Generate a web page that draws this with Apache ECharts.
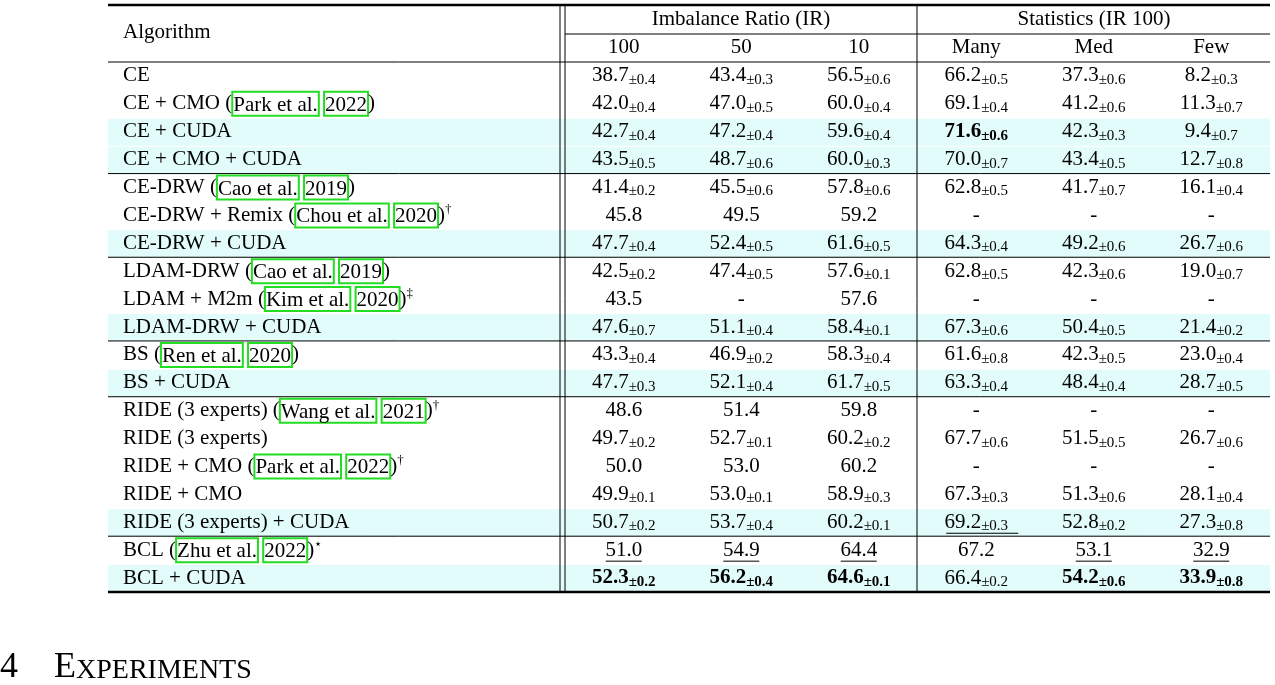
<!DOCTYPE html>
<html><head><meta charset="utf-8">
<script src="https://cdn.jsdelivr.net/npm/echarts@6/dist/echarts.min.js"></script>
<style>html,body{margin:0;background:#fff}#c{width:1275px;height:685px}</style>
</head><body><div id="c"></div>
<script>
// algorithm rows: [prefix, cite author, cite year, suffix mark]
const algos = [
  ['CE'], ['CE + CMO (', 'Park et al.', '2022'], ['CE + CUDA'], ['CE + CMO + CUDA'],
  ['CE-DRW (', 'Cao et al.', '2019'], ['CE-DRW + Remix (', 'Chou et al.', '2020', '†'], ['CE-DRW + CUDA'],
  ['LDAM-DRW (', 'Cao et al.', '2019'], ['LDAM + M2m (', 'Kim et al.', '2020', '‡'], ['LDAM-DRW + CUDA'],
  ['BS (', 'Ren et al.', '2020'], ['BS + CUDA'],
  ['RIDE (3 experts) (', 'Wang et al.', '2021', '†'], ['RIDE (3 experts)'], ['RIDE + CMO (', 'Park et al.', '2022', '†'],
  ['RIDE + CMO'], ['RIDE (3 experts) + CUDA'],
  ['BCL (', 'Zhu et al.', '2022', '⋆'], ['BCL + CUDA']
];
const columns = ['100', '50', '10', 'Many', 'Med', 'Few'];
const means = [
  ['38.7','43.4','56.5','66.2','37.3','8.2'],
  ['42.0','47.0','60.0','69.1','41.2','11.3'],
  ['42.7','47.2','59.6','71.6','42.3','9.4'],
  ['43.5','48.7','60.0','70.0','43.4','12.7'],
  ['41.4','45.5','57.8','62.8','41.7','16.1'],
  ['45.8','49.5','59.2','-','-','-'],
  ['47.7','52.4','61.6','64.3','49.2','26.7'],
  ['42.5','47.4','57.6','62.8','42.3','19.0'],
  ['43.5','-','57.6','-','-','-'],
  ['47.6','51.1','58.4','67.3','50.4','21.4'],
  ['43.3','46.9','58.3','61.6','42.3','23.0'],
  ['47.7','52.1','61.7','63.3','48.4','28.7'],
  ['48.6','51.4','59.8','-','-','-'],
  ['49.7','52.7','60.2','67.7','51.5','26.7'],
  ['50.0','53.0','60.2','-','-','-'],
  ['49.9','53.0','58.9','67.3','51.3','28.1'],
  ['50.7','53.7','60.2','69.2','52.8','27.3'],
  ['51.0','54.9','64.4','67.2','53.1','32.9'],
  ['52.3','56.2','64.6','66.4','54.2','33.9']
];
const stds = [
  ['0.4','0.3','0.6','0.5','0.6','0.3'],
  ['0.4','0.5','0.4','0.4','0.6','0.7'],
  ['0.4','0.4','0.4','0.6','0.3','0.7'],
  ['0.5','0.6','0.3','0.7','0.5','0.8'],
  ['0.2','0.6','0.6','0.5','0.7','0.4'],
  ['','','','','',''],
  ['0.4','0.5','0.5','0.4','0.6','0.6'],
  ['0.2','0.5','0.1','0.5','0.6','0.7'],
  ['','','','','',''],
  ['0.7','0.4','0.1','0.6','0.5','0.2'],
  ['0.4','0.2','0.4','0.8','0.5','0.4'],
  ['0.3','0.4','0.5','0.4','0.4','0.5'],
  ['','','','','',''],
  ['0.2','0.1','0.2','0.6','0.5','0.6'],
  ['','','','','',''],
  ['0.1','0.1','0.3','0.3','0.6','0.4'],
  ['0.2','0.4','0.1','0.3','0.2','0.8'],
  ['','','','','',''],
  ['0.2','0.4','0.1','0.2','0.6','0.8']
];
const boldCells = [[2, 3], [18, 0], [18, 1], [18, 2], [18, 4], [18, 5]];
const shadedRows = [2, 3, 6, 9, 11, 16, 18];
const groupEnds = [3, 6, 9, 11, 16];

const FONT = '"Liberation Serif", "DejaVu Serif", serif';
const isBold = (r, c) => boldCells.some(([a, b]) => a === r && b === c);

const points = [];
means.forEach((row, r) => row.forEach((m, c) => points.push([c, r])));

const chart = echarts.init(document.getElementById('c'));
chart.setOption({
  animation: false,
  grid: { left: 565, right: 5, top: 62, bottom: 93 },
  xAxis: { type: 'category', data: columns, show: false },
  yAxis: {
    type: 'category', inverse: true, data: algos.map((a, i) => String(i)),
    axisLine: { show: false }, axisTick: { show: false }, splitLine: { show: false },
    axisLabel: {
      align: 'left', margin: 442, fontFamily: FONT, fontSize: 21, color: '#000',
      formatter: v => {
        const a = algos[+v];
        if (!a[1]) return a[0];
        return a[0] + '{c|' + a[1] + '} {c|' + a[2] + '}' + ')' + (a[3] ? '{s|' + a[3] + '}' : '');
      },
      rich: {
        c: { borderColor: '#22dd22', borderWidth: 2, padding: [3, 1, 0, 1], fontFamily: FONT, fontSize: 21, color: '#000' },
        s: { fontSize: 13, verticalAlign: 'top', padding: [0, 0, 10, 0], fontFamily: FONT, color: '#000' }
      }
    }
  },
  series: [{
    type: 'scatter', symbolSize: 0, data: points, silent: true,
    itemStyle: { opacity: 1 },
    label: {
      show: true, position: 'inside', fontFamily: FONT, fontSize: 21, color: '#000', textBorderWidth: 0,
      formatter: p => {
        const [c, r] = p.data;
        const m = means[r][c], s = stds[r][c];
        const b = isBold(r, c);
        return (b ? '{b|' + m + '}' : '{n|' + m + '}') + (s ? (b ? '{bs|±' + s + '}' : '{s|±' + s + '}') : '');
      },
      rich: {
        n: { fontFamily: FONT, fontSize: 21, color: '#000' },
        b: { fontWeight: 'bold', fontFamily: FONT, fontSize: 21, color: '#000' },
        s: { fontSize: 15, padding: [8, 0, 0, 0], fontFamily: FONT, color: '#000' },
        bs: { fontSize: 15, fontWeight: 'bold', padding: [8, 0, 0, 0], fontFamily: FONT, color: '#000' }
      }
    }
  }]
});

function rowY(i) { return chart.convertToPixel({ yAxisIndex: 0 }, String(i)); }
const step = rowY(1) - rowY(0);
const hline = (x1, x2, y, w) => ({ type: 'line', shape: { x1, x2, y1: y, y2: y }, style: { stroke: '#000', lineWidth: w } });
const vline = (x, y1, y2) => ({ type: 'line', shape: { x1: x, x2: x, y1, y2 }, style: { stroke: '#000', lineWidth: 1 } });
const colX = c => chart.convertToPixel({ xAxisIndex: 0 }, columns[c]);
const under = [[16, 3, 36], [17, 0, 18], [17, 1, 18], [17, 2, 18], [17, 4, 18], [17, 5, 18]];
const headText = (text, x, y) => ({ type: 'text', style: { text, x, y, font: '21px ' + FONT, fill: '#000', textAlign: 'center', textVerticalAlign: 'middle' } });
const bottom = rowY(18) + step / 2;

chart.setOption({
  graphic: [
    ...shadedRows.map(r => ({ type: 'rect', z: -1, shape: { x: 108, y: rowY(r) - step / 2 + 1, width: 1162, height: step - 1 }, style: { fill: '#e2fbfb' } })),
    ...groupEnds.map(r => hline(108, 1270, rowY(r) + step / 2, 1)),
    ...under.map(([r, c, w]) => hline(colX(c) - (r === 16 ? 30 : 18), colX(c) - (r === 16 ? 30 : 18) + w * (r === 16 ? 2 : 2), rowY(r) + 11, 1)),
    hline(108, 1270, 5, 2.5), hline(108, 1270, 62, 1), hline(565, 1270, 34, 1), hline(108, 1270, bottom, 2.5),
    vline(560, 5, bottom), vline(565, 5, bottom), vline(917, 5, bottom),
    { type: 'text', style: { text: 'Algorithm', x: 123, y: 32, font: '21px ' + FONT, fill: '#000', textVerticalAlign: 'middle' } },
    headText('Imbalance Ratio (IR)', 741, 19), headText('Statistics (IR 100)', 1094, 19),
    ...columns.map((t, c) => headText(t, colX(c), 47)),
    { type: 'text', style: { text: '4    E{s|XPERIMENTS}', x: 0, y: 668, font: '36px ' + FONT, fill: '#000', textVerticalAlign: 'middle',
      rich: { s: { fontSize: 28, fontFamily: FONT, fill: '#000', padding: [6, 0, 0, 0] } } } }
  ]
});
</script></body></html>
